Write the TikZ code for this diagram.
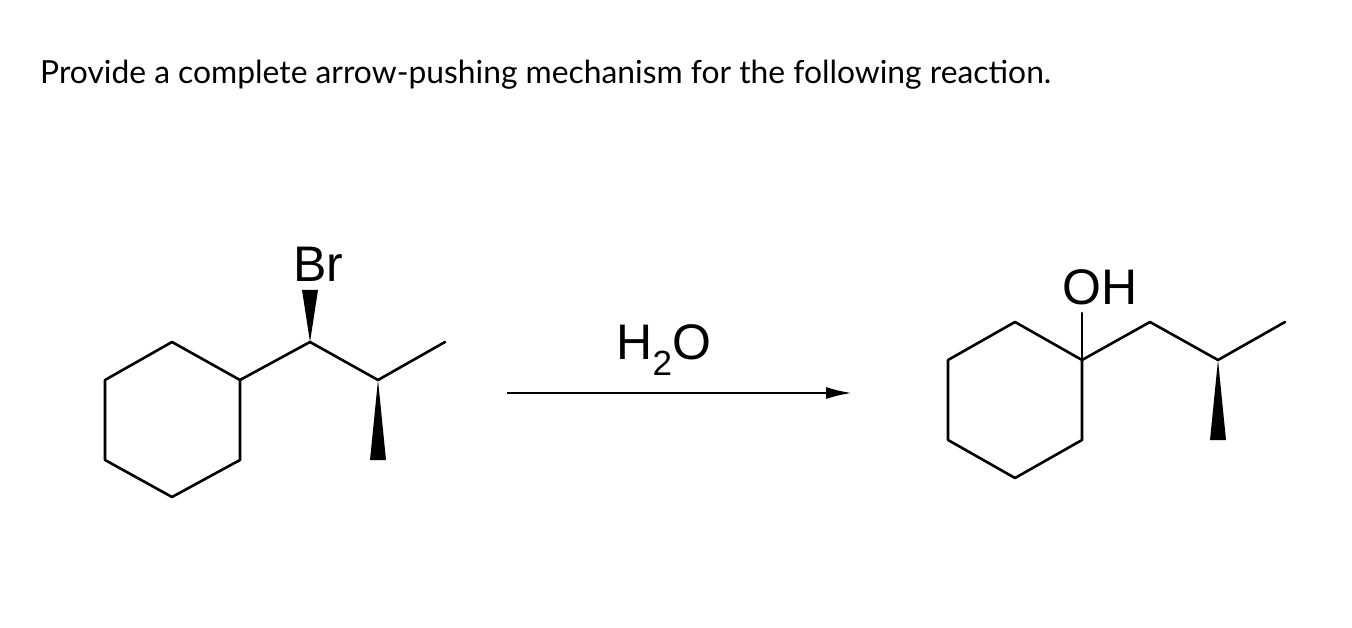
\documentclass[tikz,border=0pt]{standalone}
\usetikzlibrary{arrows.meta}
\usepackage{fontspec}
\setmainfont{Lato}
\newfontfamily\chem{Liberation Sans}
\begin{document}
\begin{tikzpicture}[x=1pt,y=-1pt,bond/.style={line width=2.6pt,line join=round,line cap=round},lbl/.style={font=\chem\fontsize{50}{52}\selectfont,inner sep=0pt}]
\useasboundingbox (0,0) rectangle (1352,628);
\node[anchor=west,inner sep=0pt,font=\fontsize{31.8}{34}\selectfont] (title) at (40,75) {Provide a complete arrow-pushing mechanism for the following reaction.};
% left molecule
\coordinate (a1) at (172,342); \coordinate (a2) at (240,380); \coordinate (a3) at (240,460);
\coordinate (a4) at (172,497); \coordinate (a5) at (105,460); \coordinate (a6) at (105,380);
\coordinate (b1) at (310,342); \coordinate (b2) at (378,380); \coordinate (b3) at (445,342);
\draw[bond] (a1)--(a2)--(a3)--(a4)--(a5)--(a6)--cycle;
\draw[bond] (a2)--(b1)--(b2)--(b3);
\fill (b1) -- (302,290) -- (318,290) -- cycle;
\fill (b2) -- (370,460) -- (386,460) -- cycle;
\node[lbl] (br) at (318,264) {Br};
% arrow
\coordinate (p) at (507,393); \coordinate (q) at (852,393);
\draw[line width=2.4pt,-{Latex[length=26pt,width=12pt]}] (p) -- (q);
\node[lbl] (h2o) at (664,350) {H\textsubscript{2}O};
% right molecule
\coordinate (c1) at (1015,322); \coordinate (c2) at (1082,360); \coordinate (c3) at (1082,440);
\coordinate (c4) at (1015,478); \coordinate (c5) at (948,440); \coordinate (c6) at (948,360);
\coordinate (d1) at (1150,322); \coordinate (d2) at (1218,360); \coordinate (d3) at (1285,322);
\node[lbl] (oh) at (1100,287) {OH};
\draw[bond] (c1)--(c2)--(c3)--(c4)--(c5)--(c6)--cycle;
\draw[bond] (c2)--(d1)--(d2)--(d3);
\draw[bond] (c2)--(1082,313);
\fill (d2) -- (1210,440) -- (1226,440) -- cycle;
\end{tikzpicture}
\end{document}
